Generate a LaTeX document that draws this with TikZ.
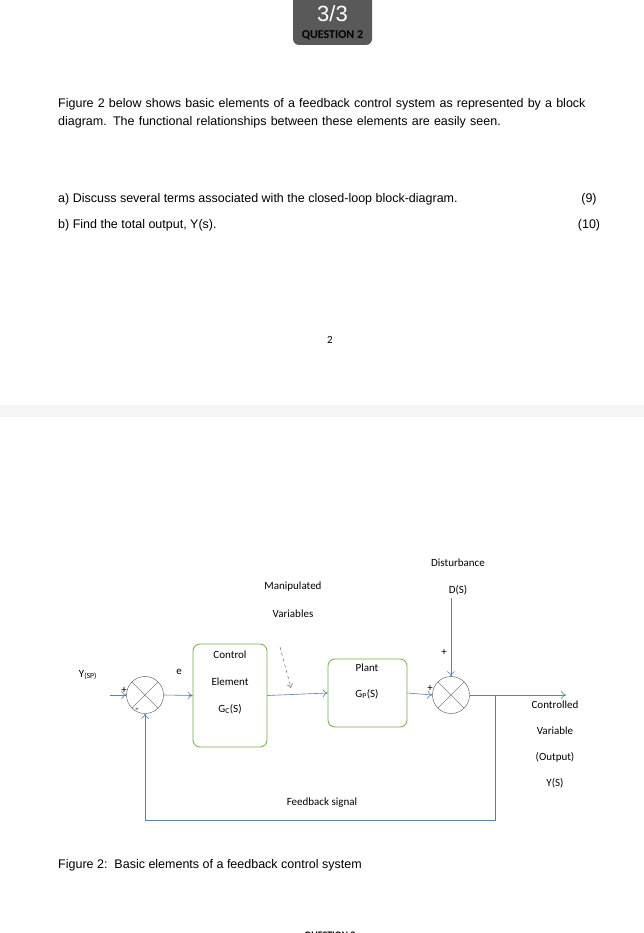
\documentclass[tikz,border=0pt]{standalone}
\usepackage{fontspec}
\setmainfont{Liberation Sans}
\newfontfamily\carl{Carlito}
\usetikzlibrary{arrows.meta}
\definecolor{ln}{HTML}{5B7FA8}
\definecolor{gr}{HTML}{70AD47}
\begin{document}
\begin{tikzpicture}[x=1pt,y=-1pt,
 blk/.style={draw=gr,rounded corners=7pt,line width=0.8pt},
 sj/.style={draw=black!70,circle,minimum size=37pt,inner sep=0pt},
 lbl/.style={font=\carl\fontsize{11}{13}\selectfont},
 wire/.style={draw=ln,line width=0.6pt},
 arr/.style={wire,-{To[length=5pt,width=8pt]}},
 body/.style={font=\fontsize{12.5}{15}\selectfont,anchor=west}]
\useasboundingbox (0,0) rectangle (644,933);
\fill[black!4] (0,405) rectangle (644,417);
\fill[black!65,rounded corners=6pt] (293,-8) rectangle (372,45);
\node[text=white,font=\fontsize{22}{24}\selectfont] (hd) at (332.5,14) {3/3};
\node[font=\bfseries\carl\fontsize{12}{13}\selectfont] (hq) at (332.5,35) {QUESTION 2};
\node[body,text width=540pt,align=left,anchor=north west,inner sep=0pt,font=\fontsize{12.5}{18.5}\selectfont] (intro) at (58,98) {Figure 2 below shows basic elements of a feedback control system as represented by a block diagram. The functional relationships between these elements are easily seen.};
\node[body,inner sep=0pt] (qa) at (58,199) {a) Discuss several terms associated with the closed-loop block-diagram.};
\node[body,inner sep=0pt] (qb) at (58,225) {b) Find the total output, Y(s).};
\node[font=\fontsize{12.5}{15}\selectfont] (ma) at (589,199) {(9)};
\node[font=\fontsize{12.5}{15}\selectfont] (mb) at (589,225) {(10)};
\node[lbl] (pg) at (330,340) {2};
% diagram
\node[sj] (s1) at (145,695) {};
\draw[black!50] (s1.45)--(s1.225) (s1.135)--(s1.315);
\node[sj] (s2) at (451,695) {};
\draw[black!50] (s2.45)--(s2.225) (s2.135)--(s2.315);
\node[blk,minimum width=74pt,minimum height=103pt] (ce) at (230,695.5) {};
\node[lbl] at (230,655) {Control};
\node[lbl] at (230,682) {Element};
\node[lbl] at (230,709) {G\textsubscript{C}(S)};
\node[blk,minimum width=79pt,minimum height=68pt] (pl) at (367.5,693) {};
\node[lbl] at (367,668) {Plant};
\node[lbl] at (367,694) {G\textsubscript{P}(S)};
\node[lbl] (ysp) at (88,675) {Y\textsubscript{(SP)}};
\coordinate (in) at (110,695);
\draw[arr] (in)--(s1.west);
\node[lbl] at (124,690) {+};
\node[lbl] at (137,711) {-};
\draw[arr] (s1.east)--(ce.west);
\node[lbl] (e) at (179,672) {e};
\draw[arr] (ce.east)--(pl.west);
\node[lbl] (mv1) at (293,587) {Manipulated};
\node[lbl] (mv2) at (293,614) {Variables};
\coordinate (da) at (280,647); \coordinate (db) at (291,688);
\draw[dashed,black!70,-{To[length=4pt,width=6pt]}] (da)--(db);
\draw[arr] (pl.east)--(s2.west);
\node[lbl] at (430,688) {+};
\node[lbl] (dist) at (458,563) {Disturbance};
\node[lbl] (ds) at (458,590) {D(S)};
\draw[arr] (ds.south -| s2) -- (s2.north);
\node[lbl] at (444,652) {+};
\coordinate (tap) at (495,695);
\coordinate (out) at (566,695);
\draw[arr] (s2.east)--(out);
\draw[wire] (tap)--(495,820)--(145,820);
\draw[arr] (145,820)--(s1.south);
\node[lbl,align=center] (cv) at (555,744) {Controlled\\[13pt]Variable\\[13pt](Output)\\[13pt]Y(S)};
\node[lbl] (fb) at (322,803) {Feedback signal};
\node[body,inner sep=0pt] (cap) at (58,865) {Figure 2:\ \ Basic elements of a feedback control system};
\begin{scope}
\clip (0,0) rectangle (644,933);
\node[font=\carl\bfseries\fontsize{10}{11}\selectfont] at (330,936) {QUESTION 2};
\end{scope}
\end{tikzpicture}
\end{document}
